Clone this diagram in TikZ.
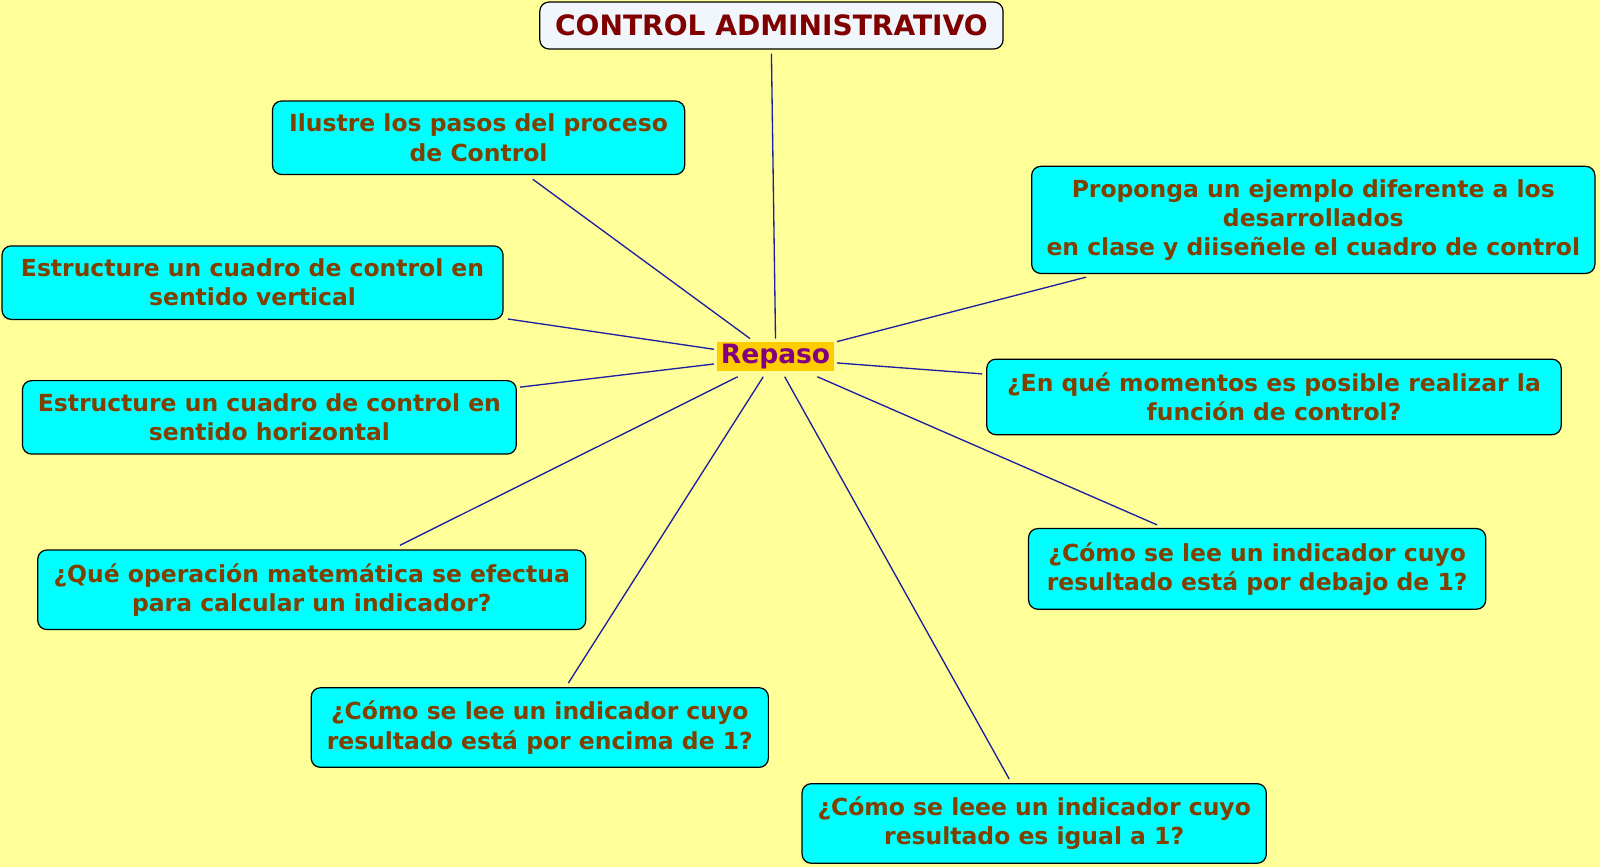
\documentclass[tikz,border=0pt]{standalone}
\usepackage{fontspec}
\setmainfont{DejaVu Sans}
\definecolor{bgy}{RGB}{255,255,153}
\definecolor{boxc}{RGB}{0,255,255}
\definecolor{txtb}{RGB}{128,64,0}
\definecolor{ttl}{RGB}{128,0,0}
\definecolor{ttlfill}{RGB}{240,246,252}
\definecolor{rep}{RGB}{255,204,0}
\definecolor{reptxt}{RGB}{128,0,128}
\definecolor{lnk}{RGB}{30,30,160}
\begin{document}
\begin{tikzpicture}[x=1pt,y=-1pt,
  qbox/.style={draw=black, line width=1.2pt, fill=boxc, rounded corners=9pt, inner sep=0pt,
    align=center, text=txtb, font=\bfseries\fontsize{23}{28.5}\selectfont},
  link/.style={draw=lnk, line width=1.3pt}]
\useasboundingbox[fill=bgy] (0,0) rectangle (1568,850);
\node[draw=black, line width=1.2pt, fill=ttlfill, rounded corners=9pt, inner sep=0pt,
  minimum width=454pt, minimum height=46pt, text=ttl, font=\bfseries\fontsize{27.5}{30}\selectfont]
  (title) at (756,25) {CONTROL ADMINISTRATIVO};
\node[fill=rep, inner sep=0pt, minimum width=114pt, minimum height=29pt, text=reptxt,
  font=\bfseries\fontsize{26}{28}\selectfont] (repaso) at (760,349.5) {Repaso};
\node[qbox, minimum width=404pt, minimum height=72pt] (ilustre) at (469,135) {Ilustre los pasos del proceso\\de Control};
\node[qbox, minimum width=491pt, minimum height=72pt] (vert) at (247.5,277) {Estructure un cuadro de control en\\sentido vertical};
\node[qbox, minimum width=484pt, minimum height=72pt] (horiz) at (264,409) {Estructure un cuadro de control en\\sentido horizontal};
\node[qbox, minimum width=537pt, minimum height=78pt] (oper) at (305.5,578) {¿Qué operación matemática se efectua\\para calcular un indicador?};
\node[qbox, minimum width=448pt, minimum height=78pt] (encima) at (529,713) {¿Cómo se lee un indicador cuyo\\resultado está por encima de 1?};
\node[qbox, minimum width=455pt, minimum height=78pt] (igual) at (1013.5,807) {¿Cómo se leee un indicador cuyo\\resultado es igual a 1?};
\node[qbox, minimum width=448pt, minimum height=79pt] (debajo) at (1232,557.5) {¿Cómo se lee un indicador cuyo\\resultado está por debajo de 1?};
\node[qbox, minimum width=563pt, minimum height=74pt] (momentos) at (1248.5,389) {¿En qué momentos es posible realizar la\\función de control?};
\node[qbox, minimum width=552pt, minimum height=105pt] (proponga) at (1287,215.5) {Proponga un ejemplo diferente a los\\desarrollados\\en clase y diiseñele el cuadro de control};
% connectors (shifts in pt, positive y is up)
\draw[link] ([xshift=0pt,yshift=-4pt]title.south) -- ([xshift=0pt,yshift=3pt]repaso.north);
\draw[link] ([xshift=53pt,yshift=-4pt]ilustre.south) -- ([xshift=-25pt,yshift=3pt]repaso.north);
\draw[link] ([xshift=4pt,yshift=1pt]vert.south east) -- ([xshift=-3pt,yshift=-7.5pt]repaso.north west);
\draw[link] ([xshift=3pt,yshift=-7pt]horiz.north east) -- ([xshift=-3pt,yshift=7.5pt]repaso.south west);
\draw[link] ([xshift=86.5pt,yshift=4pt]oper.north) -- ([xshift=-37pt,yshift=-5pt]repaso.south);
\draw[link] ([xshift=28pt,yshift=4pt]encima.north) -- ([xshift=-12pt,yshift=-5pt]repaso.south);
\draw[link] ([xshift=-24.5pt,yshift=4pt]igual.north) -- ([xshift=9pt,yshift=-5pt]repaso.south);
\draw[link] ([xshift=-98pt,yshift=3pt]debajo.north) -- ([xshift=41pt,yshift=-5pt]repaso.south);
\draw[link] ([xshift=-4pt,yshift=-15pt]momentos.north west) -- ([xshift=3pt,yshift=8.5pt]repaso.south east);
\draw[link] ([xshift=54pt,yshift=-3pt]proponga.south west) -- ([xshift=3pt,yshift=0pt]repaso.north east);
\end{tikzpicture}
\end{document}
